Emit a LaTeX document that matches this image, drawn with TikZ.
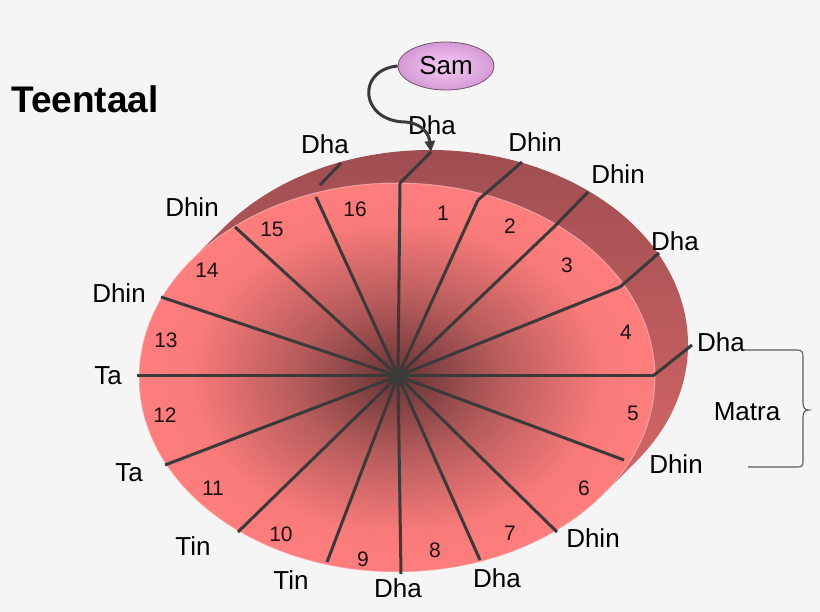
\documentclass[tikz,border=0pt]{standalone}
\usepackage{fontspec}
\setmainfont{Liberation Sans}
\usetikzlibrary{arrows.meta,shapes.geometric}
\pgfdeclareradialshading{facesh}{\pgfpoint{0bp}{0bp}}{rgb(0bp)=(0.40,0.20,0.21); rgb(10bp)=(0.72,0.36,0.36); rgb(20bp)=(0.98,0.48,0.48); rgb(25bp)=(1,0.49,0.49); rgb(50bp)=(1,0.49,0.49)}
\pgfdeclareradialshading{samsh}{\pgfpoint{0bp}{0bp}}{rgb(0bp)=(0.96,0.80,0.96); rgb(25bp)=(0.84,0.60,0.84); rgb(50bp)=(0.84,0.60,0.84)}
\definecolor{bg}{RGB}{245,245,245}
\definecolor{spokecol}{RGB}{58,58,58}
\definecolor{sidetop}{RGB}{155,76,80}
\definecolor{sidemid}{RGB}{200,94,96}
\definecolor{sidebot}{RGB}{232,110,110}
\definecolor{samborder}{RGB}{110,85,110}
\definecolor{numcol}{RGB}{30,15,15}
\definecolor{bracecol}{RGB}{90,90,90}
\begin{document}
\begin{tikzpicture}[x=1pt,y=-1pt,
  spoke/.style={draw=spokecol,line width=3pt},
  lab/.style={font=\fontsize{26}{30}\selectfont,inner sep=0pt,text=black},
  num/.style={font=\fontsize{21}{24}\selectfont,inner sep=0pt,text=numcol},
  samarrow/.style={draw=spokecol,line width=3pt,-{Triangle[length=11pt,width=10pt]}},
  bracestyle/.style={draw=bracecol,line width=1.1pt}]
\fill[bg] (0,0) rectangle (820,612);
\useasboundingbox (0,0) rectangle (820,612);
% side of the disk
\shade[top color=sidetop,middle color=sidemid,bottom color=sidebot]
  (603.05,494.55) arc[start angle=37,end angle=217,x radius=258,y radius=194.5]
  -- (223.95,227.45) arc[start angle=217,end angle=397,x radius=258,y radius=194.5] -- cycle;
% top face
\shade[shading=facesh] (397,377.5) ellipse[x radius=258,y radius=194.5];
\draw[white,opacity=.35,line width=1pt] (397,377.5) ellipse[x radius=258,y radius=194.5];
% spokes
\coordinate (O) at (398,376);
\coordinate (e0) at (400,183);
\coordinate (e1) at (478,200);
\coordinate (e2) at (555,226);
\coordinate (e3) at (620,287);
\coordinate (e4) at (653,376);
\coordinate (e5) at (624,460);
\coordinate (e6) at (557,532);
\coordinate (e7) at (480,560);
\coordinate (e8) at (401,574);
\coordinate (e9) at (327,562);
\coordinate (e10) at (238,532);
\coordinate (e11) at (165,465);
\coordinate (e12) at (137,376);
\coordinate (e13) at (161,297);
\coordinate (e14) at (235,227);
\coordinate (e15) at (316,197);
\foreach \i in {0,...,15} \draw[spoke] (O) -- (e\i);
% extension lines across the rim
\coordinate (b0) at (431,152);
\coordinate (b1) at (522,162);
\coordinate (b2) at (588,192);
\coordinate (b3) at (659,253);
\coordinate (b4) at (692,345);
\coordinate (a15) at (320,185);
\coordinate (b15) at (341,163);
\draw[spoke] (e0) -- (b0);
\draw[spoke] (e1) -- (b1);
\draw[spoke] (e2) -- (b2);
\draw[spoke] (e3) -- (b3);
\draw[spoke] (e4) -- (b4);
\draw[spoke] (a15) -- (b15);
% bol labels
\node[lab] (l0) at (432,125) {Dha};
\node[lab] (l1) at (535,142) {Dhin};
\node[lab] (l2) at (618,174) {Dhin};
\node[lab] (l3) at (675,241) {Dha};
\node[lab] (l4) at (721,342) {Dha};
\node[lab] (l5) at (676,464) {Dhin};
\node[lab] (l6) at (593,538) {Dhin};
\node[lab] (l7) at (497,578) {Dha};
\node[lab] (l8) at (398,588) {Dha};
\node[lab] (l9) at (291,580) {Tin};
\node[lab] (l10) at (193,546) {Tin};
\node[lab] (l11) at (129,473) {Ta};
\node[lab] (l12) at (108,376) {Ta};
\node[lab] (l13) at (119,293) {Dhin};
\node[lab] (l14) at (192,207) {Dhin};
\node[lab] (l15) at (325,144) {Dha};
% matra numbers
\node[num] (n1) at (443,213) {1};
\node[num] (n2) at (510,226) {2};
\node[num] (n3) at (567,265) {3};
\node[num] (n4) at (626,332) {4};
\node[num] (n5) at (633,413) {5};
\node[num] (n6) at (584,488) {6};
\node[num] (n7) at (510,533) {7};
\node[num] (n8) at (435,550) {8};
\node[num] (n9) at (363,559) {9};
\node[num] (n10) at (281,534) {10};
\node[num] (n11) at (213,488) {11};
\node[num] (n12) at (165,415) {12};
\node[num] (n13) at (166,340) {13};
\node[num] (n14) at (207,270) {14};
\node[num] (n15) at (272,229) {15};
\node[num] (n16) at (355,209) {16};
% title
\node[font=\bfseries\fontsize{37}{40}\selectfont,inner sep=0pt] (title) at (85,99) {Teentaal};
% Sam
\node[ellipse,shade,shading=samsh,draw=samborder,line width=0.8pt,minimum width=96pt,minimum height=48pt,inner sep=0pt,font=\fontsize{26}{30}\selectfont] (sam) at (446,66) {Sam};
\draw[samarrow] (sam.west) .. controls (356,70) and (360,121) .. (405,122) .. controls (422,123) and (429,134) .. (b0);
% Matra brace
\coordinate (mt) at (743,350);
\coordinate (mb) at (748,467);
\draw[bracestyle] (mt) -- (797,350) .. controls (802,350) and (803,352) .. (803,357) -- (803,403) .. controls (803,408) and (805,410) .. (809,410) .. controls (805,410) and (803,412) .. (803,417) -- (803,461) .. controls (803,466) and (802,467) .. (797,467) -- (mb);
\node[lab] (matra) at (747,412) {Matra};
\end{tikzpicture}
\end{document}
